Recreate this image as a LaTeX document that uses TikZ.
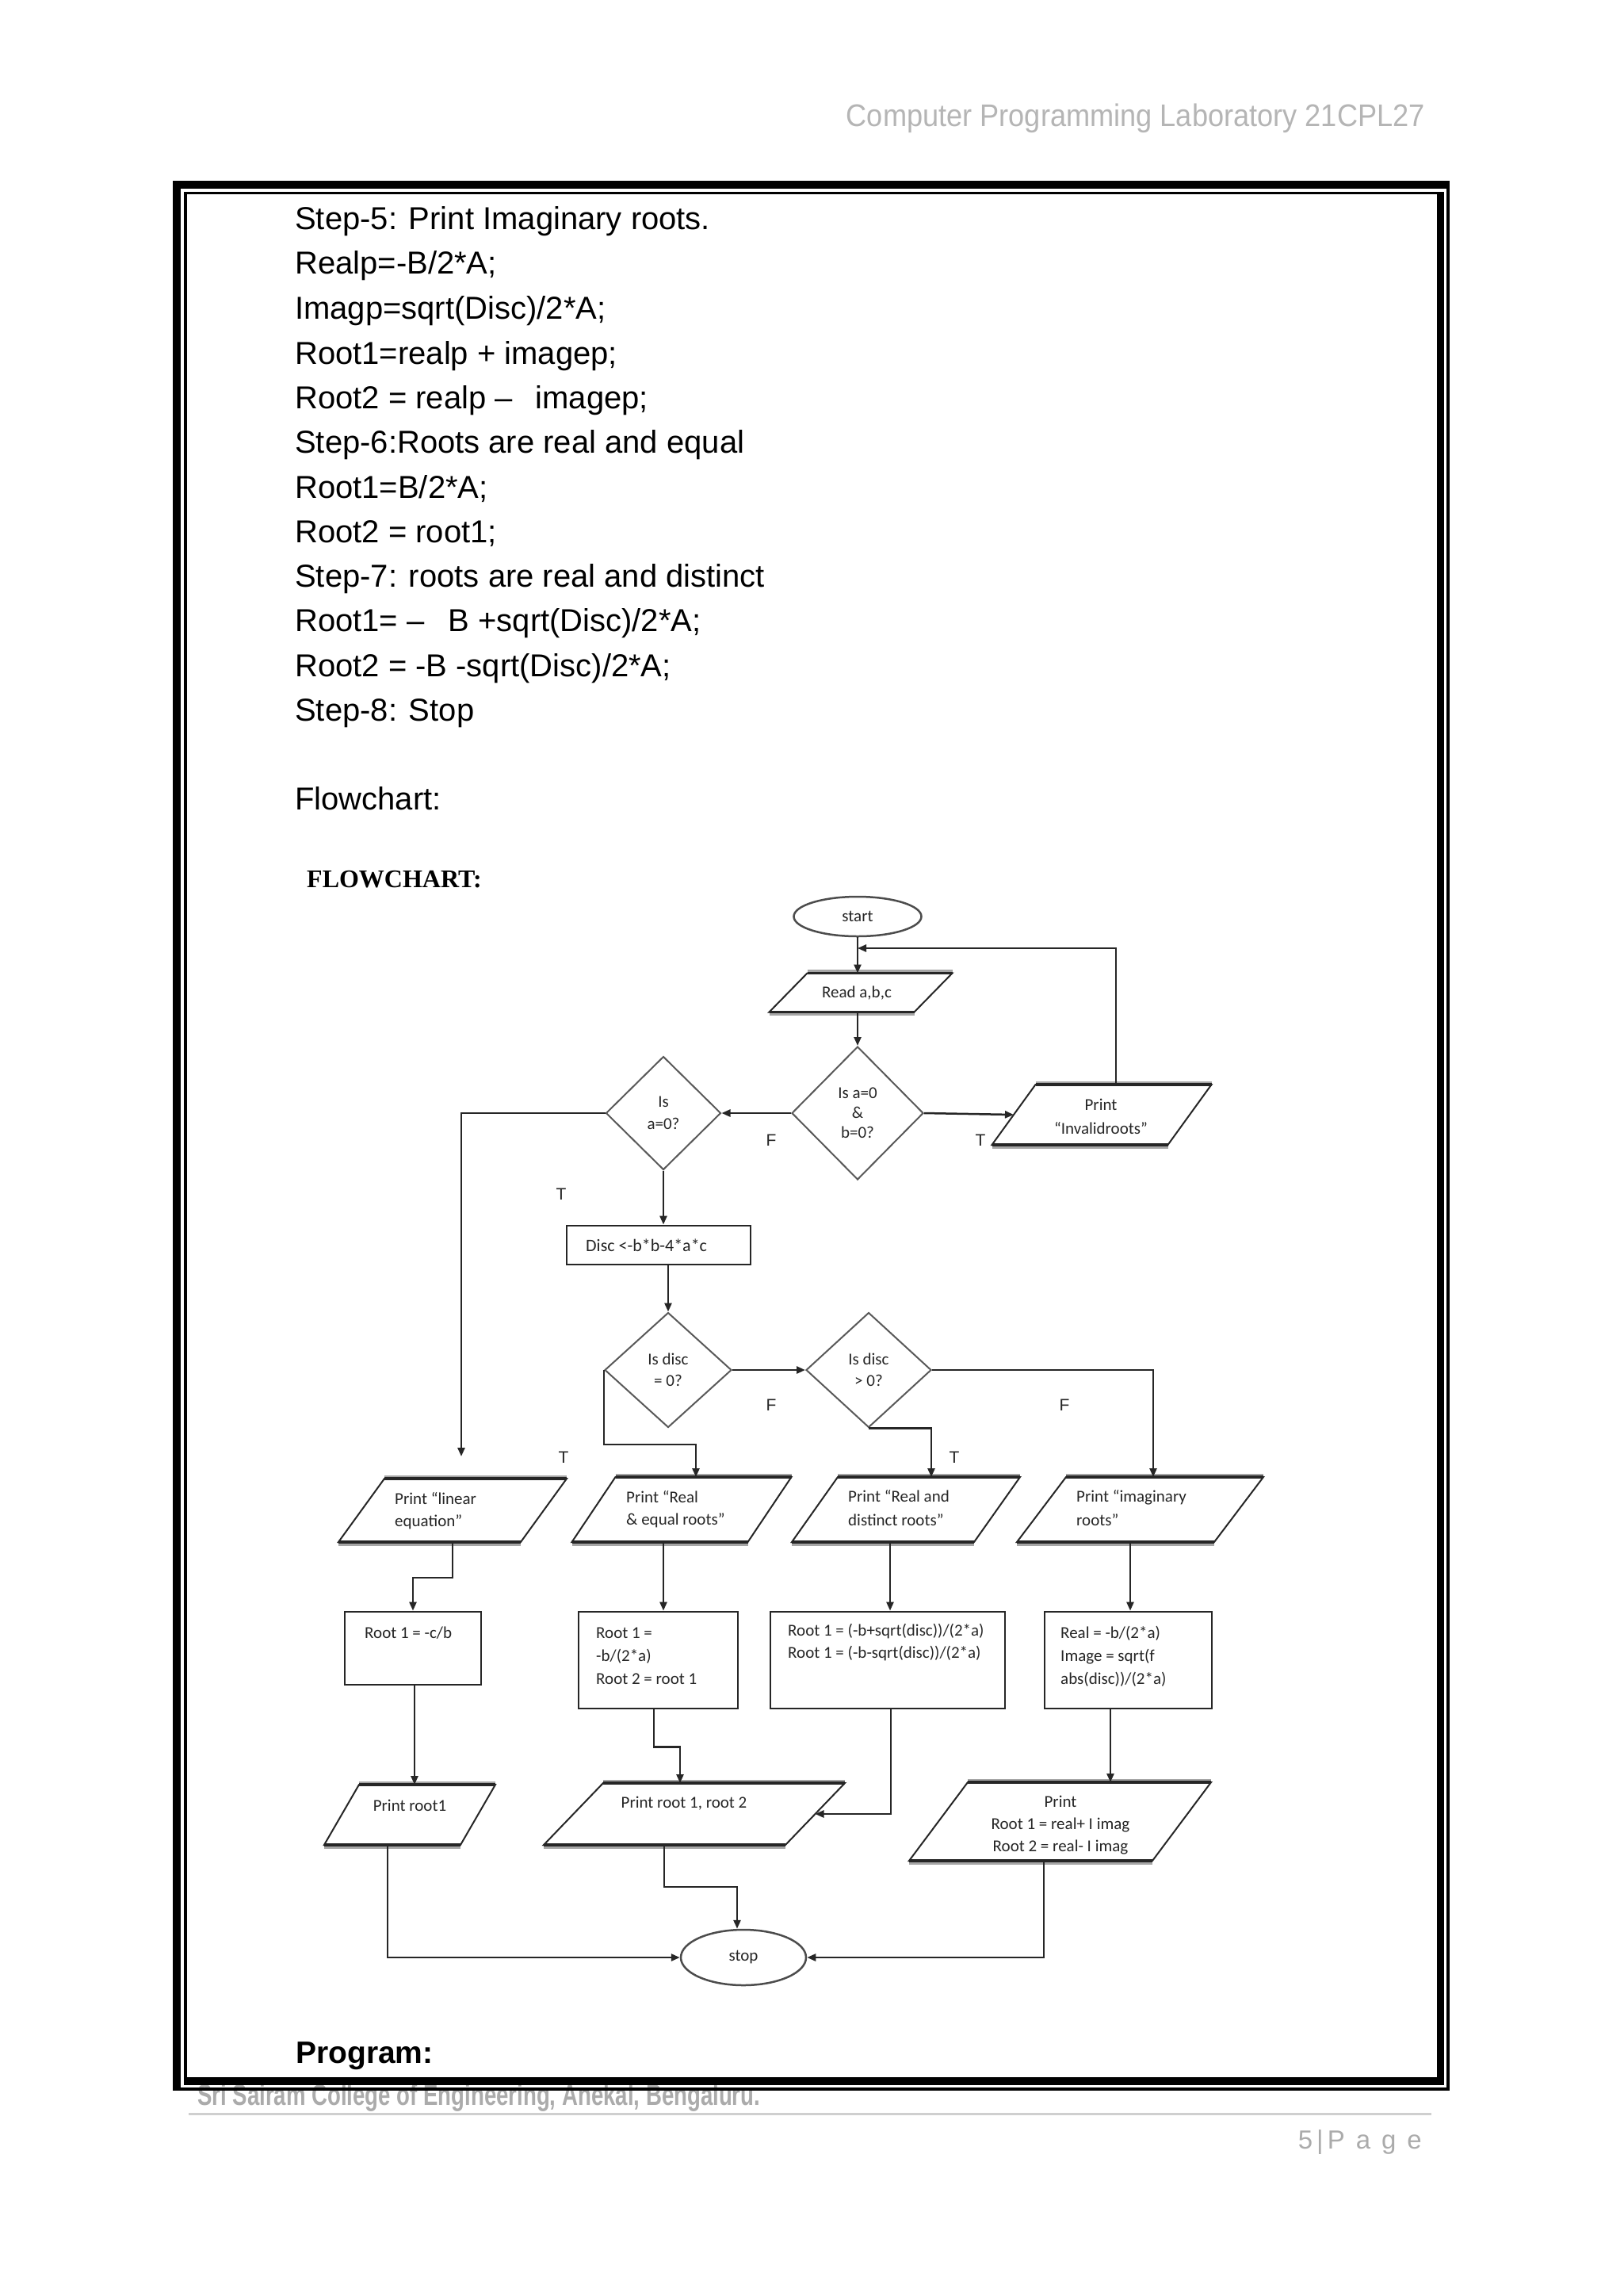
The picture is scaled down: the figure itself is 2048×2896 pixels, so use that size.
\documentclass[tikz,border=0pt]{standalone}
\usepackage{graphicx}
\usepackage{fontspec}
\setmainfont{Liberation Sans}
\newfontfamily\calib{Carlito}
\newfontfamily\tms{Liberation Serif}
\usetikzlibrary{shapes.geometric,arrows.meta,calc}
\definecolor{hdr}{HTML}{B5B5B5}
\definecolor{ftr}{HTML}{ABABAB}
\definecolor{fline}{HTML}{CFCFCF}
\definecolor{ink}{HTML}{262626}
\newcommand{\parashape}[2]{%
  \draw[black!35, line width=3pt] ($(#1.north west)+(#2,-3)$) -- ($(#1.north east)+(#2,-3)$);
  \draw[black!35, line width=3pt] ($(#1.south west)+(-#2,3)$) -- ($(#1.south east)+(-#2,3)$);
  \draw[ink, line width=2pt, line join=miter] ($(#1.north west)+(#2,0)$) -- ($(#1.north east)+(#2,0)$) -- ($(#1.south east)+(-#2,0)$) -- ($(#1.south west)+(-#2,0)$) -- cycle;
  \draw[ink, line width=3.5pt] ($(#1.north west)+(#2,0)$) -- ($(#1.north east)+(#2,0)$);
  \draw[ink, line width=3.5pt] ($(#1.south west)+(-#2,0)$) -- ($(#1.south east)+(-#2,0)$);
}
\begin{document}
\begin{tikzpicture}[x=1pt,y=-1pt,
  body/.style={anchor=base west, inner sep=0pt, font=\fontsize{40}{48}\selectfont},
  fc/.style={font=\calib\fontsize{21}{28}\selectfont, text=ink, inner sep=0pt},
  ln/.style={draw=ink, line width=2.5pt},
  arr/.style={ln, -{Triangle[length=11pt,width=9pt]}},
  dia/.style={diamond, draw=black!65, line width=2pt, inner sep=0pt, aspect=1, align=center, text=ink},
  oval/.style={ellipse, draw=black!70, line width=2.5pt, inner sep=0pt, fc},
  box/.style={rectangle, draw=ink, line width=2.8pt, inner sep=0pt},
  para/.style={rectangle, draw=none, inner sep=0pt, outer sep=0pt},
  tf/.style={font=\fontsize{21}{24}\selectfont, inner sep=0pt, text=ink}
]
\useasboundingbox (0,0) rectangle (2048,2896);
\fill[white] (0,0) rectangle (2048,2896);

% header
\node[anchor=base east, inner sep=0pt, text=hdr] (hdrt) at (1798,159) {\resizebox{730pt}{28.6pt}{\fontsize{40}{48}\selectfont Computer Programming Laboratory 21CPL27}};

% body text
\node[body] (l1) at (372,289) {Step-5: Print Imaginary roots.};
\node[body] (l2) at (372,345.5) {Realp=-B/2*A;};
\node[body] (l3) at (372,402) {Imagp=sqrt(Disc)/2*A;};
\node[body] (l4) at (372,459) {Root1=realp + imagep;};
\node[body] (l5) at (372,515.5) {Root2 = realp –\hspace{29pt}imagep;};
\node[body] (l6) at (372,571) {Step-6:Roots are real and equal};
\node[body] (l7) at (372,628) {Root1=B/2*A;};
\node[body] (l8) at (372,684) {Root2 = root1;};
\node[body] (l9) at (372,740) {Step-7: roots are real and distinct};
\node[body] (l10) at (372,796) {Root1= –\hspace{30pt}B +sqrt(Disc)/2*A;};
\node[body] (l11) at (372,853) {Root2 = -B -sqrt(Disc)/2*A;};
\node[body] (l12) at (372,909) {Step-8: Stop};
\node[body] (l13) at (372,1021) {Flowchart:};

\node[anchor=base west, inner sep=0pt, font=\tms\bfseries\fontsize{32}{36}\selectfont] (fch) at (387,1119) {FLOWCHART:};

% ---------- flowchart shapes ----------
\node[oval, minimum width=161pt, minimum height=50pt] (start) at (1082,1156) {start};

\node[para, minimum width=183pt, minimum height=49pt] (read) at (1086,1252) {};
\parashape{read}{24}
\node[fc] (readt) at (1081,1253) {Read a,b,c};

\node[dia, minimum width=166pt, minimum height=168pt, font=\calib\fontsize{21}{25}\selectfont] (d1) at (1082,1404) {Is a=0\\\&\\b=0?};
\node[dia, minimum width=145pt, minimum height=143pt, font=\calib\fontsize{21}{28}\selectfont] (d2) at (837,1404) {Is\\a=0?};

\node[para, minimum width=222pt, minimum height=76pt] (inv) at (1390,1406) {};
\parashape{inv}{27.5}
\node[fc, align=center, font=\calib\fontsize{21}{30}\selectfont] (invt) at (1389,1408) {Print\\“Invalidroots”};

\node[box, minimum width=232pt, minimum height=49pt] (disc) at (831,1570.5) {};
\node[fc, anchor=west, font=\calib\fontsize{22}{28}\selectfont] (disct) at (739,1571) {Disc <-b*b-4*a*c};

\node[dia, minimum width=160pt, minimum height=145pt, font=\calib\fontsize{21}{27}\selectfont] (d3) at (843,1728) {Is disc\\= 0?};
\node[dia, minimum width=158pt, minimum height=145pt, font=\calib\fontsize{21}{27}\selectfont] (d4) at (1096,1728) {Is disc\\> 0?};

\node[para, minimum width=230pt, minimum height=80pt] (plin) at (571,1905) {};
\parashape{plin}{29}
\node[fc, anchor=west, align=left] (plint) at (498,1906) {Print “linear\\equation”};

\node[para, minimum width=222pt, minimum height=82pt] (peq) at (860,1904) {};
\parashape{peq}{27.5}
\node[fc, anchor=west, align=left] (peqt) at (790,1904) {Print “Real\\\& equal roots”};

\node[para, minimum width=230pt, minimum height=82pt] (pdi) at (1143,1904) {};
\parashape{pdi}{29}
\node[fc, anchor=west, align=left, font=\calib\fontsize{21}{30}\selectfont] (pdit) at (1070,1902) {Print “Real and\\distinct roots”};

\node[para, minimum width=249pt, minimum height=82pt] (pim) at (1438.5,1904) {};
\parashape{pim}{31}
\node[fc, anchor=west, align=left, font=\calib\fontsize{21}{30}\selectfont] (pimt) at (1358,1902) {Print “imaginary\\roots”};

\node[box, minimum width=172pt, minimum height=92pt] (box1) at (521,2079) {};
\node[fc, anchor=west] (box1t) at (460,2060) {Root 1 = -c/b};
\node[box, minimum width=201pt, minimum height=122pt] (box2) at (830.5,2094) {};
\node[fc, anchor=west, align=left, font=\calib\fontsize{21}{29}\selectfont] (box2t) at (752,2089) {Root 1 =\\-b/(2*a)\\Root 2 = root 1};
\node[box, minimum width=296pt, minimum height=122pt] (box3) at (1120,2094) {};
\node[fc, anchor=west, align=left] (box3t) at (994,2071) {Root 1 = (-b+sqrt(disc))/(2*a)\\Root 1 = (-b-sqrt(disc))/(2*a)};
\node[box, minimum width=211pt, minimum height=122pt] (box4) at (1423.5,2094) {};
\node[fc, anchor=west, align=left, font=\calib\fontsize{21}{29}\selectfont] (box4t) at (1338,2089) {Real = -b/(2*a)\\Image = sqrt(f\\abs(disc))/(2*a)};

\node[para, minimum width=172pt, minimum height=76pt] (prt1) at (517,2289) {};
\parashape{prt1}{22}
\node[fc] (prt1t) at (517,2277) {Print root1};

\node[para, minimum width=305pt, minimum height=78pt] (pr12) at (876,2288) {};
\parashape{pr12}{37.5}
\node[fc] (pr12t) at (863,2275) {Print root 1, root 2};

\node[para, minimum width=307pt, minimum height=99pt] (pimr) at (1337.5,2297.5) {};
\parashape{pimr}{37}
\node[fc, align=center] (pimrt) at (1338,2302) {Print\\Root 1 = real+ I imag\\Root 2 = real- I imag};

\node[oval, minimum width=158pt, minimum height=70pt] (stop) at (938,2469) {stop};

% ---------- connectors ----------
\coordinate (fb) at (1082,1196);
\coordinate (linend) at (582,1837);
\draw[arr] (start.south) -- (start.south |- read.north);
\draw[arr] ([xshift=18pt]inv.north) |- (fb);
\draw[arr] (start.south |- read.south) -- (d1.north);
\draw[arr] (d1.west) -- (d2.east);
\draw[arr] (d1.east) -- (inv.west);
\draw[arr] (d2.west) -| (linend);
\draw[arr] (d2.south) -- (d2.south |- disc.north);
\draw[arr] (d3.north |- disc.south) -- (d3.north);
\draw[arr] (d3.east) -- (d4.west);
\draw[arr] (d3.west) -- ++(0,94) -| ([xshift=18pt]peq.north);
\draw[arr] (d4.south) -| ([xshift=32pt]pdi.north);
\draw[arr] (d4.east) -| ([xshift=16.5pt]pim.north);
\draw[arr] (plin.south) -- ++(0,45) -| (box1.north);
\draw[arr] ([xshift=-23pt]peq.south) -- ([xshift=-23pt]peq.south |- box2.north);
\draw[arr] ([xshift=-20pt]pdi.south) -- ([xshift=-20pt]pdi.south |- box3.north);
\draw[arr] ([xshift=-12.5pt]pim.south) -- ([xshift=-12.5pt]pim.south |- box4.north);
\draw[arr] ([xshift=2pt]box1.south) -- ([xshift=2pt]box1.south |- prt1.north);
\draw[arr] ([xshift=-5.5pt]box2.south) -- ++(0,47) -| ([xshift=-18pt]pr12.north);
\draw[arr] ([xshift=4pt]box3.south) |- (pr12.east);
\draw[arr] ([xshift=-22.5pt]box4.south) -- ([xshift=-22.5pt]box4.south |- pimr.north);
\draw[arr] ([xshift=-28pt]prt1.south) |- (stop.west);
\draw[arr] ([xshift=-38pt]pr12.south) -- ++(0,53) -| ([xshift=-8pt]stop.north);
\draw[arr] ([xshift=-20.5pt]pimr.south) |- (stop.east);

% T/F labels
\node[tf] (f1) at (973,1438) {F};
\node[tf] (t1) at (1237,1438) {T};
\node[tf] (t2) at (708,1506) {T};
\node[tf] (f2) at (973,1772) {F};
\node[tf] (t3) at (711,1838) {T};
\node[tf] (t4) at (1204,1838) {T};
\node[tf] (f3) at (1343,1772) {F};

\node[anchor=base west, inner sep=0pt, font=\bfseries\fontsize{39}{44}\selectfont] (prog) at (373,2602) {Program:};

% footer
\node[anchor=base west, inner sep=0pt, text=ftr] (ftrt) at (249,2655) {\resizebox{710pt}{27pt}{\bfseries\fontsize{40}{48}\selectfont Sri Sairam College of Engineering, Anekal, Bengaluru.}};
\draw[fline, line width=3pt] (238,2666) -- (1806,2666);
\node[anchor=base east, inner sep=0pt, text=ftr, font=\fontsize{33}{36}\selectfont] (pg) at (1794,2710) {5\hspace{5pt}|\hspace{5pt}P\hspace{14pt}a\hspace{14pt}g\hspace{14pt}e};

% page frame
\fill[black] (218,228) rectangle (1829,238);
\fill[black] (218,228) rectangle (228,2637);
\fill[black] (1825,228) rectangle (1829,2637);
\fill[black] (218,2633) rectangle (1829,2637);
\fill[black] (232,242) rectangle (1822,245);
\fill[black] (232,242) rectangle (236,2630);
\fill[black] (1813,242) rectangle (1822,2630);
\fill[black] (232,2620) rectangle (1822,2630);
\end{tikzpicture}
\end{document}
